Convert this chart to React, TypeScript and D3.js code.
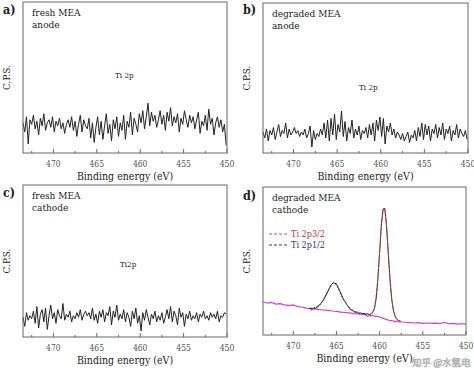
import React from "react";
import * as d3 from "d3";

// shared energy grid for the noisy spectra (eV, high -> low)
const gridEnergies = d3.range(473.5, 449.95, -0.2);
const xTicks = [470, 465, 460, 455, 450];
const xMinor = [472.5, 467.5, 462.5, 457.5, 452.5];

// a) fresh MEA anode
const freshAnode = [
  20, 14, 24, 6, 22, 19, 25, 16, 21, 12, 23, 18, 26, 15, 20, 22, 17, 24,
  14, 21, 18, 23, 16, 20, 13, 19, 22, 17, 24, 15, 21, 11, 19, 25, 14, 22, 18, 16,
  23, 10, 20, 7, 17, 24, 12, 21, 9, 18, 26, 13, 19, 8, 22, 16, 24, 11, 20, 15,
  25, 9, 21, 17, 27, 12, 23, 19, 14, 26, 20, 28, 16, 24, 33, 18, 27, 21, 25, 17,
  22, 28, 19, 25, 15, 27, 21, 30, 18, 24, 20, 26, 14, 23, 19, 28, 22, 17, 25, 20,
  24, 16, 22, 27, 13, 21, 18, 25, 15, 29, 19, 23, 12, 20, 24, 17, 22, 14, 19, 5,
];

// b) degraded MEA anode
const degradedAnode = [
  14, 10, 16, 8, 15, 12, 17, 9, 14, 19, 11, 15, 13, 20, 10, 16, 12, 14,
  17, 13, 15, 11, 14, 12, 16, 10, 13, 18, 4, 15, 9, 13, 11, 16, 12, 20, 10, 22,
  8, 23, 12, 26, 9, 19, 14, 28, 11, 21, 8, 17, 13, 22, 10, 16, 12, 18, 9, 15,
  13, 17, 10, 19, 12, 20, 8, 22, 15, 24, 11, 23, 6, 18, 14, 20, 12, 16, 10, 14,
  12, 9, 13, 8, 11, 14, 7, 12, 10, 15, 8, 17, 11, 20, 9, 19, 12, 18, 8, 16,
  13, 19, 10, 17, 12, 20, 9, 16, 13, 18, 8, 15, 12, 19, 10, 16, 13, 11, 15, 9,
];

// c) fresh MEA cathode
const freshCathode = [
  13, 7, 16, 11, 14, 12, 17, 9, 20, 6, 15, 18, 10, 19, 5, 14, 21, 12,
  16, 9, 18, 14, 12, 22, 11, 15, 13, 17, 10, 14, 12, 16, 13, 18, 11, 15, 17, 14,
  16, 12, 19, 11, 15, 9, 17, 13, 18, 10, 16, 14, 20, 8, 17, 13, 21, 11, 15, 12,
  18, 10, 16, 13, 7, 17, 12, 19, 9, 14, 4, 16, 11, 18, 13, 8, 15, 12, 17, 10,
  14, 11, 16, 9, 13, 18, 12, 20, 10, 17, 14, 8, 19, 13, 16, 7, 15, 12, 17, 11,
  14, 12, 16, 10, 15, 13, 17, 12, 14, 11, 16, 13, 15, 12, 17, 10, 14, 13, 16, 15,
];

// d) degraded MEA cathode
const bgEnergies = d3.range(473.5, 449.9, -0.5);
const bgValues = [
  22.3, 21.6, 22.0, 20.9, 21.2, 20.3, 19.9, 20.3, 19.2, 18.9, 18.2, 17.9, 17.6, 17.2, 16.9, 16.6,
  16.2, 15.9, 15.5, 15.2, 14.9, 14.5, 14.2, 13.9, 13.5, 13.2, 12.8, 12.2, 11.1, 10.1, 9.5, 9.1,
  8.8, 8.6, 8.4, 8.1, 8.3, 7.9, 8.1, 7.8, 8.0, 7.6, 8.6, 7.6, 7.8, 7.4, 7.6, 7.4,
];
const dataEnergies = d3.range(468.2, 457.55, -0.2);
const dataValues = [
  17.5, 18.3, 17.4, 18.6, 18.0, 19.5, 20.1,
  21.4, 22.8, 24.9, 27.0, 29.5, 31.6, 34.0, 35.3, 35.0, 34.6,
  32.2, 29.6, 27.0, 24.1, 22.6, 20.5, 19.0, 17.3, 16.8, 16.0,
  15.2, 15.6, 14.6, 15.0, 14.3, 14.7, 14.0, 14.4, 13.8, 14.3,
  15.5, 18.0, 24.5, 38.0, 56.0, 74.0, 85.0, 85.5, 74.0, 55.5,
  38.0, 24.0, 16.5, 12.5, 10.5, 9.8, 9.3,
];
const p32Energies = [461.5, 461, 460.6, 460.3, 460, 459.8, 459.6, 459.5, 459.4, 459.2, 459, 458.7, 458.4, 458, 457.5];
const p32Values = [12.2, 12.8, 17.6, 31.1, 56.1, 74.3, 85.1, 85.8, 85.1, 73.6, 55.4, 29.7, 16.2, 10.1, 9.5];
const p12Energies = [468, 467.5, 467, 466.5, 466, 465.7, 465.4, 465.1, 464.8, 464.4, 464, 463.5, 463, 462.5, 462, 461.5];
const p12Values = [16.9, 17.6, 19.6, 23.6, 29.1, 33.1, 35.1, 34.5, 31.8, 26.4, 22.3, 18.2, 16.2, 14.9, 14.2, 13.5];

const serif = "'DejaVu Serif Condensed', 'DejaVu Serif', serif";

type Series = { xs: number[]; ys: number[]; color: string; width: number; dash?: string };

function zip(xs: number[], ys: number[]) {
  const n = Math.min(xs.length, ys.length);
  return d3.range(n).map((i) => [xs[i], ys[i]] as [number, number]);
}

function Panel(props: {
  box: [number, number, number, number];
  tag: string;
  tagPos: [number, number];
  lines: string[];
  note?: string;
  notePos?: [number, number];
  series: Series[];
  legend?: boolean;
}) {
  const [x0, y0, x1, y1] = props.box;
  const x = d3.scaleLinear().domain([473.5, 450]).range([x0, x1]);
  const y = d3.scaleLinear().domain([0, 100]).range([y1, y0]);
  const line = d3.line<[number, number]>().x((d) => x(d[0])).y((d) => y(d[1]));
  const cx = (x0 + x1) / 2;
  return (
    <g>
      <text x={props.tagPos[0]} y={props.tagPos[1]} fontSize={12.5} fontWeight="bold" fill="#222">{props.tag}</text>
      {props.series.map((s, i) => (
        <path key={i} d={line(zip(s.xs, s.ys)) || ""} fill="none" stroke={s.color}
          strokeWidth={s.width} strokeDasharray={s.dash} strokeLinejoin="round" />
      ))}
      <rect x={x0} y={y0} width={x1 - x0} height={y1 - y0} fill="none" stroke="#666" strokeWidth={1} />
      {xTicks.map((t) => (
        <g key={t}>
          <line x1={x(t)} x2={x(t)} y1={y1} y2={y1 - 4} stroke="#666" />
          <text x={x(t)} y={y1 + 14} fontSize={8.5} fill="#555" textAnchor="middle">{t}</text>
        </g>
      ))}
      {xMinor.map((t) => (
        <line key={t} x1={x(t)} x2={x(t)} y1={y1} y2={y1 - 2} stroke="#666" />
      ))}
      <text x={cx} y={y1 + 27} fontSize={10.5} fill="#222" textAnchor="middle">Binding energy (eV)</text>
      <text transform={`translate(${x0 - 13},${(y0 + y1) / 2}) rotate(-90)`} fontSize={10} fill="#222" textAnchor="middle">C.P.S.</text>
      {props.lines.map((l, i) => (
        <text key={l} x={x0 + 9} y={y0 + 14 + i * 12} fontSize={10} fill="#222">{l}</text>
      ))}
      {props.note && props.notePos && (
        <text x={props.notePos[0]} y={props.notePos[1]} fontSize={8} fill="#222">{props.note}</text>
      )}
      {props.legend && (
        <g fontSize={9}>
          <line x1={x0 + 6} x2={x0 + 24} y1={y0 + 47} y2={y0 + 47} stroke="#d04848" strokeDasharray="3,2" />
          <text x={x0 + 28} y={y0 + 50} fill="#c03030">Ti 2p3/2</text>
          <line x1={x0 + 6} x2={x0 + 24} y1={y0 + 58} y2={y0 + 58} stroke="#303080" strokeDasharray="3,2" />
          <text x={x0 + 28} y={y0 + 61} fill="#2a2a90">Ti 2p1/2</text>
        </g>
      )}
    </g>
  );
}

export default function App() {
  const black = "#222";
  return (
    <svg width={474} height={368} fontFamily={serif}
      style={{ position: "absolute", left: 0, top: 0, background: "#fff", fontFamily: serif }}>
      <Panel box={[23, 2, 227, 153]} tag="a)" tagPos={[3, 14]} lines={["fresh MEA", "anode"]}
        note="Ti 2p" notePos={[115, 78]}
        series={[{ xs: gridEnergies, ys: freshAnode, color: black, width: 1 }]} />
      <Panel box={[263, 3, 468, 153]} tag="b)" tagPos={[243, 14]} lines={["degraded MEA", "anode"]}
        note="Ti 2p" notePos={[359, 90]}
        series={[{ xs: gridEnergies, ys: degradedAnode, color: black, width: 1 }]} />
      <Panel box={[23, 185, 227, 337]} tag="c)" tagPos={[3, 197]} lines={["fresh MEA", "cathode"]}
        note="Ti2p" notePos={[120, 267]}
        series={[{ xs: gridEnergies, ys: freshCathode, color: black, width: 1 }]} />
      <Panel box={[263, 187, 466, 335]} tag="d)" tagPos={[243, 200]} lines={["degraded MEA", "cathode"]}
        legend
        series={[
          { xs: bgEnergies, ys: bgValues, color: "#cc40cc", width: 1.2 },
          { xs: dataEnergies, ys: dataValues, color: black, width: 1 },
          { xs: p12Energies, ys: p12Values, color: "#303080", width: 1, dash: "2,1.5" },
          { xs: p32Energies, ys: p32Values, color: "#d04848", width: 1, dash: "2,1.5" },
        ]} />
      <text x={412} y={366} fontSize={9.5} fontFamily="'Noto Sans CJK SC', sans-serif" fill="#fff"
        stroke="#aaa" strokeWidth={0.7} opacity={0.85}>知乎 @水氢电</text>
    </svg>
  );
}
